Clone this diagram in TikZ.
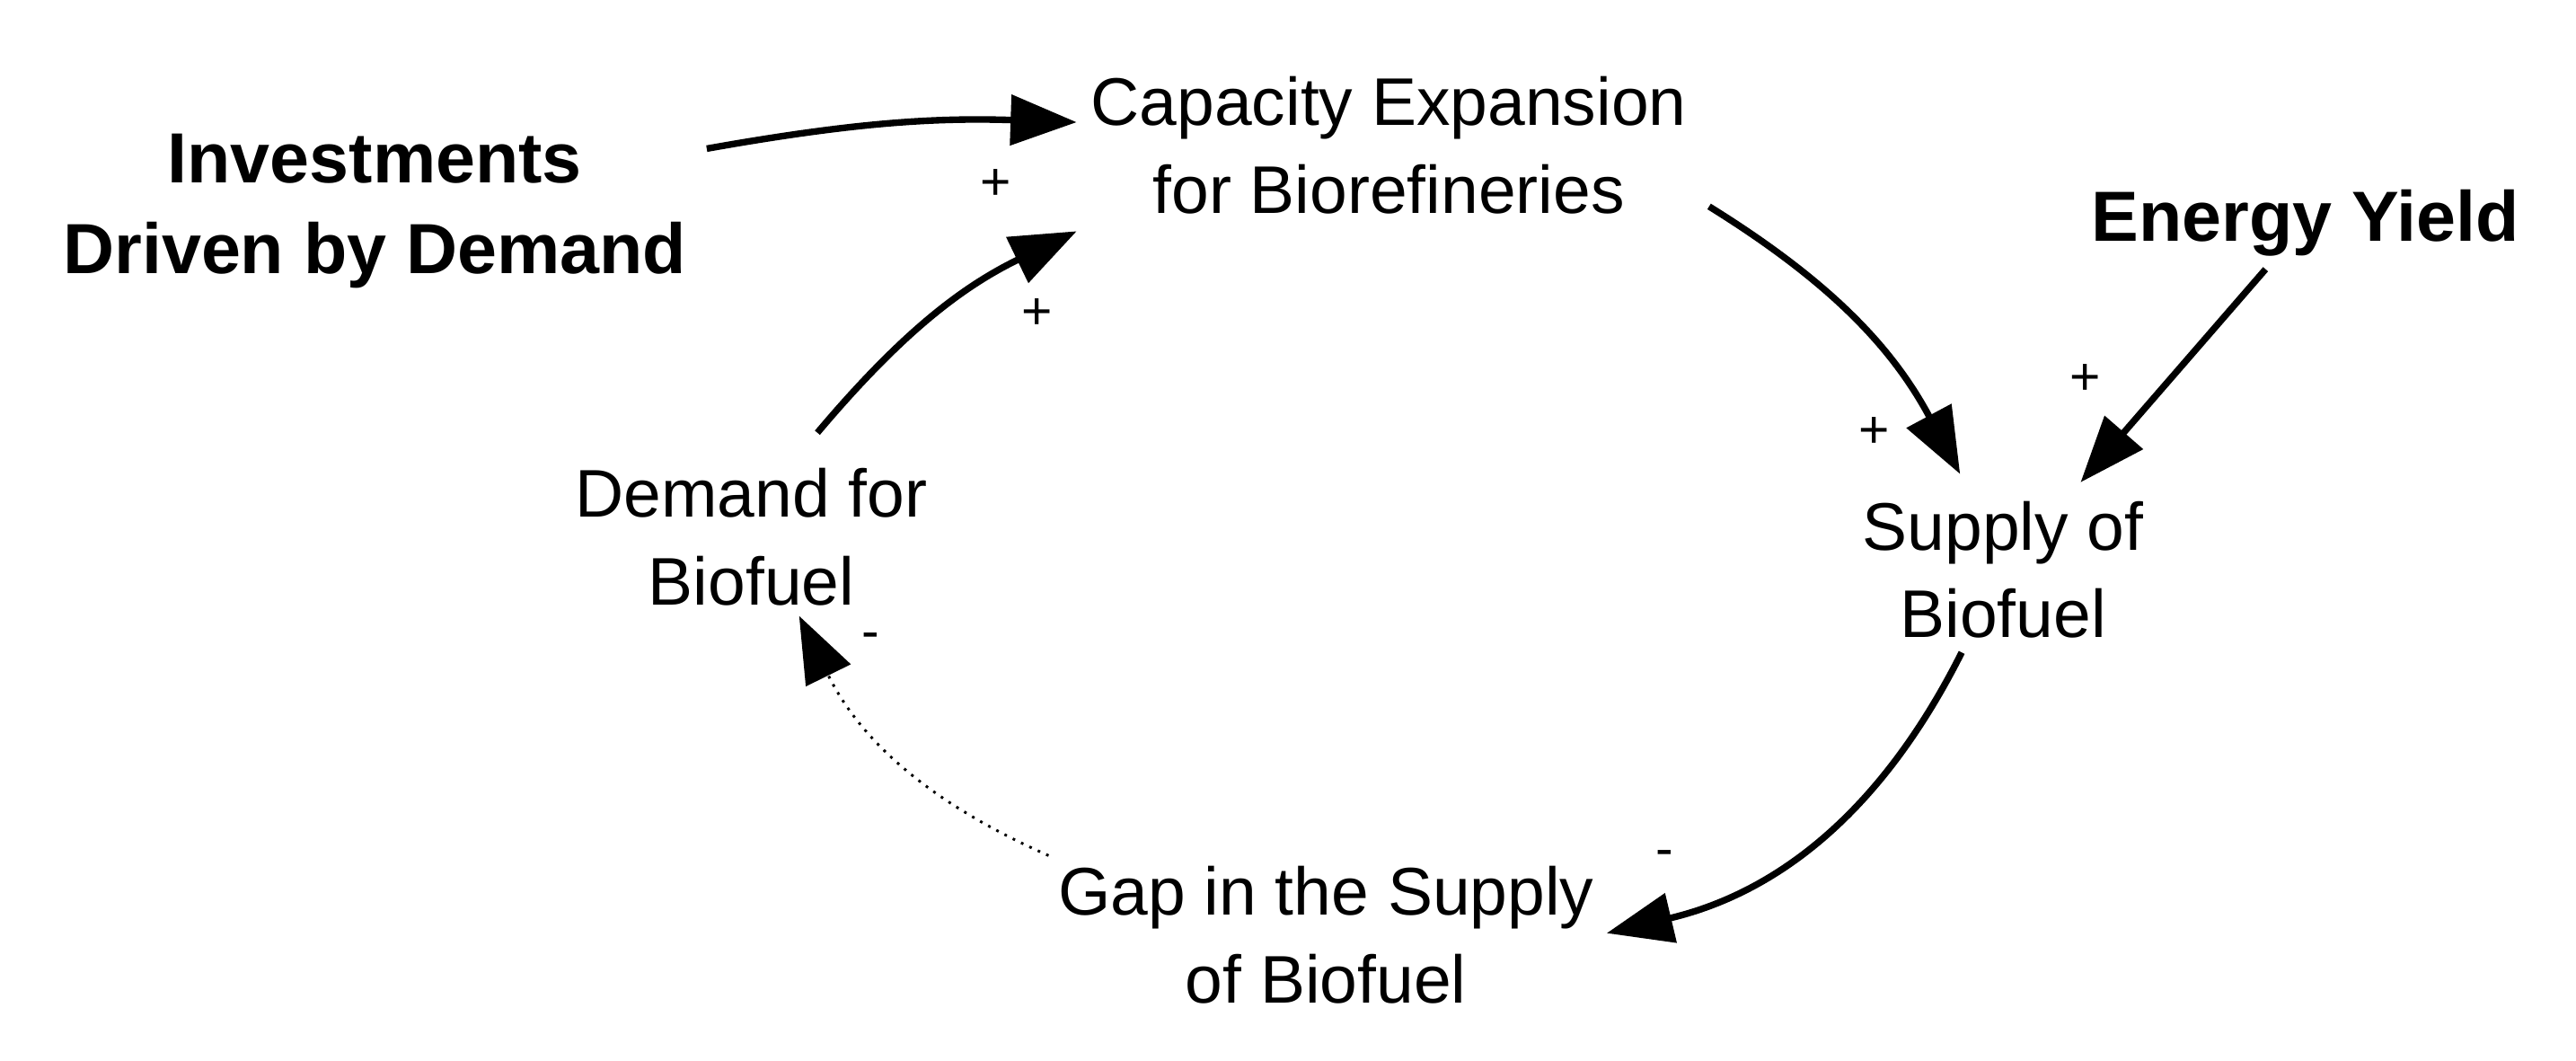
\documentclass[tikz,border=0pt]{standalone}
\usepackage{fontspec}
\setmainfont{Liberation Sans}
\usetikzlibrary{arrows.meta}
\begin{document}
\begin{tikzpicture}[x=0.5pt,y=-0.5pt,
  lbl/.style={align=center,font=\fontsize{20.4}{26.5}\selectfont},
  blbl/.style={align=center,font=\bfseries\fontsize{21.5}{27.5}\selectfont},
  sgn/.style={font=\fontsize{16}{16}\selectfont},
  arr/.style={line width=2pt,-{Triangle[length=20pt,width=15pt]}},
  darr/.style={line width=0.8pt,dotted,-{Triangle[length=20pt,width=15pt]}}]
\useasboundingbox (0,0) rectangle (1560,642);
\node[lbl] (cap) at (841,88) {Capacity Expansion\\for Biorefineries};
\node[blbl] (inv) at (227,128) {Investments\\Driven by Demand};
\node[blbl] (ey) at (1396,135) {Energy Yield};
\node[lbl] (dem) at (455,325) {Demand for\\Biofuel};
\node[lbl] (sup) at (1213,345) {Supply of\\Biofuel};
\node[lbl] (gap) at (803,566) {Gap in the Supply\\of Biofuel};
\coordinate (a1) at (428,90); \coordinate (a2) at (652,74);
\coordinate (b1) at (495,262); \coordinate (b2) at (652,140);
\coordinate (c1) at (1035,125); \coordinate (c2) at (1187,287);
\coordinate (d1) at (1372,163); \coordinate (d2) at (1260,292);
\coordinate (e1) at (1188,395); \coordinate (e2) at (973,565);
\coordinate (f1) at (635,518); \coordinate (f2) at (484,373);
\draw[arr] (a1) to[bend left=6] (a2);
\draw[arr] (b1) to[bend left=12] (b2);
\draw[arr] (c1) to[bend left=15] (c2);
\draw[arr] (d1) -- (d2);
\draw[arr] (e1) to[bend left=25] (e2);
\draw[darr] (f1) to[bend left=20] (f2);
\node[sgn] at (603,112) {+};
\node[sgn] at (628,190) {+};
\node[sgn] at (1135,262) {+};
\node[sgn] at (1263,230) {+};
\node[sgn] at (1008,520) {-};
\node[sgn] at (527,388) {-};
\end{tikzpicture}
\end{document}
